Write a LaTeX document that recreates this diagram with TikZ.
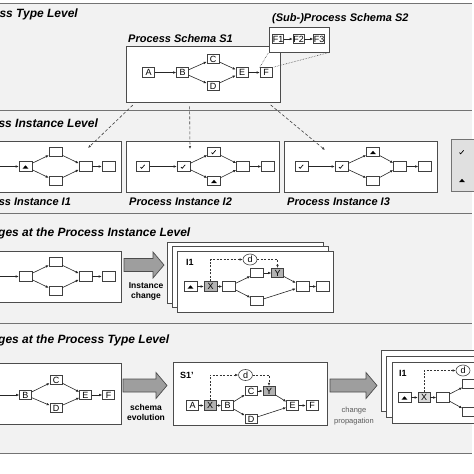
\documentclass[tikz,border=0pt]{standalone}
\usepackage{fontspec}
\setmainfont{Liberation Sans}
\usetikzlibrary{arrows.meta,shapes.geometric}

\tikzset{
  act/.style={draw=black!75, fill=white, line width=0.6pt, minimum width=12pt,
    minimum height=9.5pt, inner sep=0pt, font=\fontsize{9}{9}\selectfont},
  inst/.style={act, minimum width=13pt},
  chg/.style={act, fill=black!30},
  data/.style={draw=black!75, fill=white, ellipse, line width=0.6pt, minimum width=14pt,
    minimum height=11pt, inner sep=0pt, font=\fontsize{9}{9}\selectfont},
  done/.style={inst, path picture={\draw[black, line width=0.7pt]
    ([shift={(-2.5,0.5)}]path picture bounding box.center) -- ++(1.2,1.3) -- ++(3,-3.5);}},
  run/.style={inst, path picture={\fill[black]
    ([shift={(-2.8,2)}]path picture bounding box.center) -- ++(5.6,0) -- ++(-2.8,-3.2) -- cycle;}},
  panel/.style={draw=black!70, fill=white, line width=0.8pt, inner sep=0pt},
  flow/.style={->, black!85, line width=0.6pt},
  dep/.style={->, black!80, line width=0.6pt, dash pattern=on 2pt off 1.5pt},
  inherit/.style={->, black!75, line width=0.6pt, dash pattern=on 3pt off 2pt, shorten <=4pt},
  level/.style={font=\fontsize{12}{12}\selectfont\bfseries\itshape, anchor=base west, inner sep=0pt},
  sub/.style={font=\fontsize{11}{11}\selectfont\bfseries\itshape, anchor=base west, inner sep=0pt},
  tag/.style={font=\fontsize{9}{9}\selectfont\bfseries, anchor=base west, inner sep=0pt},
  bigarrow/.style={draw=black!70, fill=black!38, line width=0.7pt},
  arrowtext/.style={font=\fontsize{8.5}{10}\selectfont\bfseries, align=center, inner sep=0pt}
}

% grey block arrow: start x, centre y, shaft length
\newcommand{\grayarrow}[3]{%
  \draw[bigarrow] (#1,#2) ++(0,-6.5) -- ++(#3,0) -- ++(0,-6.5) -- ++(11,13)
    -- ++(-11,13) -- ++(0,-6.5) -- ++(-#3,0) -- cycle;}

\begin{document}
\begin{tikzpicture}[x=1pt, y=-1pt, >={Latex[length=3pt,width=2.6pt]}]
\useasboundingbox (0,0) rectangle (474,474);

% background bands and separators
\fill[black!5] (0,3) rectangle (472,453);
\foreach \y in {3,110,213,323,453}
  \draw[black!55, line width=0.8pt] (0,\y) -- (472,\y);

% ---------------- Process Type Level ----------------
\node[level] (lvltype) at (-34,17) {Process Type Level};

% Process Schema S1
\node[panel, minimum width=154pt, minimum height=56pt] (s1) at (203,74) {};
\node[sub] (s1lbl) at (128,42) {Process Schema S1};
\node[act] (a) at (148.5,72.5) {A};
\node[act] (b) at (182.5,72.5) {B};
\node[act] (c) at (213,59) {C};
\node[act] (d) at (213,86) {D};
\node[act] (e) at (242,72.5) {E};
\node[act] (f) at (266,72.5) {F};
\draw[flow] (a) -- (b);
\draw[flow] (b) -- (c);
\draw[flow] (b) -- (d);
\draw[flow] (c) -- (e);
\draw[flow] (d) -- (e);
\draw[flow] (e) -- (f);

% (Sub-)Process Schema S2
\node[panel, minimum width=60pt, minimum height=25pt] (s2) at (299,39.5) {};
\node[sub] (s2lbl) at (272,21) {(Sub-)Process Schema S2};
\node[act, minimum width=11pt] (f1) at (278,39) {F1};
\node[act, minimum width=11pt] (f2) at (298.5,39) {F2};
\node[act, minimum width=11pt] (f3) at (319,39) {F3};
\draw[flow] (f1) -- (f2);
\draw[flow] (f2) -- (f3);
\draw[densely dotted, black!70, line width=0.6pt] (f.north west) -- (s2.south west);
\draw[densely dotted, black!70, line width=0.6pt] (f.north east) -- (s2.south east);

% ---------------- Process Instance Level ----------------
\node[level] (lvlinst) at (-35,127) {Process Instance Level};

% instance I1
\node[panel, minimum width=153pt, minimum height=51pt] (i1) at (44.5,166.5) {};
\coordinate (i1in) at (0,166.5);
\node[run] (i1b) at (25.5,166.5) {};
\node[inst] (i1c) at (55.5,152) {};
\node[inst] (i1d) at (55.5,181) {};
\node[inst] (i1e) at (85.5,166.5) {};
\node[inst] (i1f) at (108.5,166.5) {};
\draw[flow] (i1in) -- (i1b);
\draw[flow] (i1b) -- (i1c);
\draw[flow] (i1b) -- (i1d);
\draw[flow] (i1c) -- (i1e);
\draw[flow] (i1d) -- (i1e);
\draw[flow] (i1e) -- (i1f);
\node[sub] (i1lbl) at (-32,205) {Process Instance I1};

% instance I2
\node[panel, minimum width=153pt, minimum height=51pt] (i2) at (202.5,166.5) {};
\node[done] (i2a) at (143,166.5) {};
\node[done] (i2b) at (183.5,166.5) {};
\node[done] (i2c) at (214,152) {};
\node[run] (i2d) at (214,181) {};
\node[inst] (i2e) at (243,166.5) {};
\node[inst] (i2f) at (268,166.5) {};
\draw[flow] (i2a) -- (i2b);
\draw[flow] (i2b) -- (i2c);
\draw[flow] (i2b) -- (i2d);
\draw[flow] (i2c) -- (i2e);
\draw[flow] (i2d) -- (i2e);
\draw[flow] (i2e) -- (i2f);
\node[sub] (i2lbl) at (129,205) {Process Instance I2};

% instance I3
\node[panel, minimum width=153pt, minimum height=51pt] (i3) at (360.5,166.5) {};
\node[done] (i3a) at (301.5,166.5) {};
\node[done] (i3b) at (341.5,166.5) {};
\node[run] (i3c) at (373,152) {};
\node[inst] (i3d) at (373,181) {};
\node[inst] (i3e) at (400,166.5) {};
\node[inst] (i3f) at (425,166.5) {};
\draw[flow] (i3a) -- (i3b);
\draw[flow] (i3b) -- (i3c);
\draw[flow] (i3b) -- (i3d);
\draw[flow] (i3c) -- (i3e);
\draw[flow] (i3d) -- (i3e);
\draw[flow] (i3e) -- (i3f);
\node[sub] (i3lbl) at (287,205) {Process Instance I3};

% legend (cut at the right)
\node[draw=black!55, fill=black!12, line width=0.8pt, minimum width=30pt, minimum height=52pt] (legend) at (466,165) {};
\node[done, draw=none, fill=black!12] (lgdone) at (462,152) {};
\node[run, draw=none, fill=black!12] (lgrun) at (462,180) {};

% schema S1 is instantiated
\coordinate (t1) at (88,148);
\coordinate (t2) at (190,149);
\coordinate (t3) at (325,150);
\draw[inherit] ([xshift=10pt]s1.south west) -- (t1);
\draw[inherit] ([xshift=64pt]s1.south west) -- (t2);
\draw[inherit] ([xshift=142pt]s1.south west) -- (t3);

% ---------------- Changes at the Process Instance Level ----------------
\node[level] (lvlchinst) at (-32,236) {Changes at the Process Instance Level};

\node[panel, minimum width=153pt, minimum height=51pt] (j1) at (44.5,276.5) {};
\coordinate (j1in) at (0,276.5);
\node[inst] (j1b) at (25.5,276.5) {};
\node[inst] (j1c) at (55.5,262) {};
\node[inst] (j1d) at (55.5,291) {};
\node[inst] (j1e) at (85.5,276.5) {};
\node[inst] (j1f) at (108.5,276.5) {};
\draw[flow] (j1in) -- (j1b);
\draw[flow] (j1b) -- (j1c);
\draw[flow] (j1b) -- (j1d);
\draw[flow] (j1c) -- (j1e);
\draw[flow] (j1d) -- (j1e);
\draw[flow] (j1e) -- (j1f);

\grayarrow{124}{265}{29}
\node[arrowtext] (instchg) at (146,291) {Instance\\change};

% changed instance I1 (stacked)
\node[panel, minimum width=156pt, minimum height=61pt] (k3) at (245,272.5) {};
\node[panel, minimum width=156pt, minimum height=61pt] (k2) at (250,277) {};
\node[panel, minimum width=156pt, minimum height=61pt] (k1) at (255,281.5) {};
\node[tag] (k1lbl) at (186,265) {I1};
\node[run] (ka) at (190.5,286.5) {};
\node[chg, minimum width=13pt] (kx) at (210.5,286.5) {X};
\node[inst] (kb) at (229,286.5) {};
\node[inst] (kc) at (257,273) {};
\node[chg] (ky) at (277.5,273) {Y};
\node[inst] (kd) at (257,301) {};
\node[inst] (ke) at (302.5,286.5) {};
\node[inst] (kf) at (323,286.5) {};
\node[data] (kdat) at (250,259.5) {d};
\draw[flow] (ka) -- (kx);
\draw[flow] (kx) -- (kb);
\draw[flow] (kb) -- (kc);
\draw[flow] (kb) -- (kd);
\draw[flow] (kc) -- (ky);
\draw[flow] (ky) -- (ke);
\draw[flow] (kd) -- (ke);
\draw[flow] (ke) -- (kf);
\draw[dep] (kx) |- (kdat);
\draw[dep] (kdat) -| (ky);

% ---------------- Changes at the Process Type Level ----------------
\node[level] (lvlchtype) at (-32,343) {Changes at the Process Type Level};

\node[panel, minimum width=153pt, minimum height=61pt] (m1) at (44.5,393.5) {};
\coordinate (m1in) at (0,395);
\node[act] (mb) at (25.5,395) {B};
\node[act] (mc) at (56,380) {C};
\node[act] (md) at (56,408) {D};
\node[act] (me) at (85.5,395) {E};
\node[act] (mf) at (108.5,395) {F};
\draw[flow] (m1in) -- (mb);
\draw[flow] (mb) -- (mc);
\draw[flow] (mb) -- (md);
\draw[flow] (mc) -- (me);
\draw[flow] (md) -- (me);
\draw[flow] (me) -- (mf);

\grayarrow{123}{385.5}{33}
\node[arrowtext] (schevo) at (146,412) {schema\\evolution};

% new schema S1'
\node[panel, minimum width=154pt, minimum height=63pt] (n1) at (250,393.5) {};
\node[tag] (n1lbl) at (180,378) {S1'};
\node[act] (na) at (192.5,405.5) {A};
\node[chg] (nx) at (210,405.5) {X};
\node[act] (nb) at (227.5,405.5) {B};
\node[act] (nc) at (251,391) {C};
\node[chg] (ny) at (269,391) {Y};
\node[act] (nd) at (251,419) {D};
\node[act] (ne) at (292.5,405.5) {E};
\node[act] (nf) at (312,405.5) {F};
\node[data] (ndat) at (245.5,375) {d};
\draw[flow] (na) -- (nx);
\draw[flow] (nx) -- (nb);
\draw[flow] (nb) -- (nc);
\draw[flow] (nb) -- (nd);
\draw[flow] (nc) -- (ny);
\draw[flow] (ny) -- (ne);
\draw[flow] (nd) -- (ne);
\draw[flow] (ne) -- (nf);
\draw[dep] (nx) |- (ndat);
\draw[dep] (ndat) -| (ny);

\grayarrow{330}{385.5}{36}
\node[arrowtext, font=\fontsize{7.5}{11}\selectfont, text=black!65] (chgprop) at (354,416.5) {change\\propagation};

% migrated instances (stacked, cut at the right)
\node[panel, minimum width=156pt, minimum height=61pt] (p3) at (459,380.5) {};
\node[panel, minimum width=156pt, minimum height=61pt] (p2) at (464.5,386.5) {};
\node[panel, minimum width=156pt, minimum height=61pt] (p1) at (470,392.5) {};
\node[tag] (p1lbl) at (399,376) {I1};
\node[run] (pa) at (404.5,397.5) {};
\node[act, fill=black!15, minimum width=12pt] (px) at (424,397.5) {X};
\node[inst] (pb) at (443,397.5) {};
\node[inst] (pc) at (469,384) {};
\node[inst] (pd) at (469,412) {};
\node[data] (pdat) at (463,370.5) {d};
\draw[flow] (pa) -- (px);
\draw[flow] (px) -- (pb);
\draw[flow] (pb) -- (pc);
\draw[flow] (pb) -- (pd);
\draw[dep] (px) |- (pdat);

\end{tikzpicture}
\end{document}
